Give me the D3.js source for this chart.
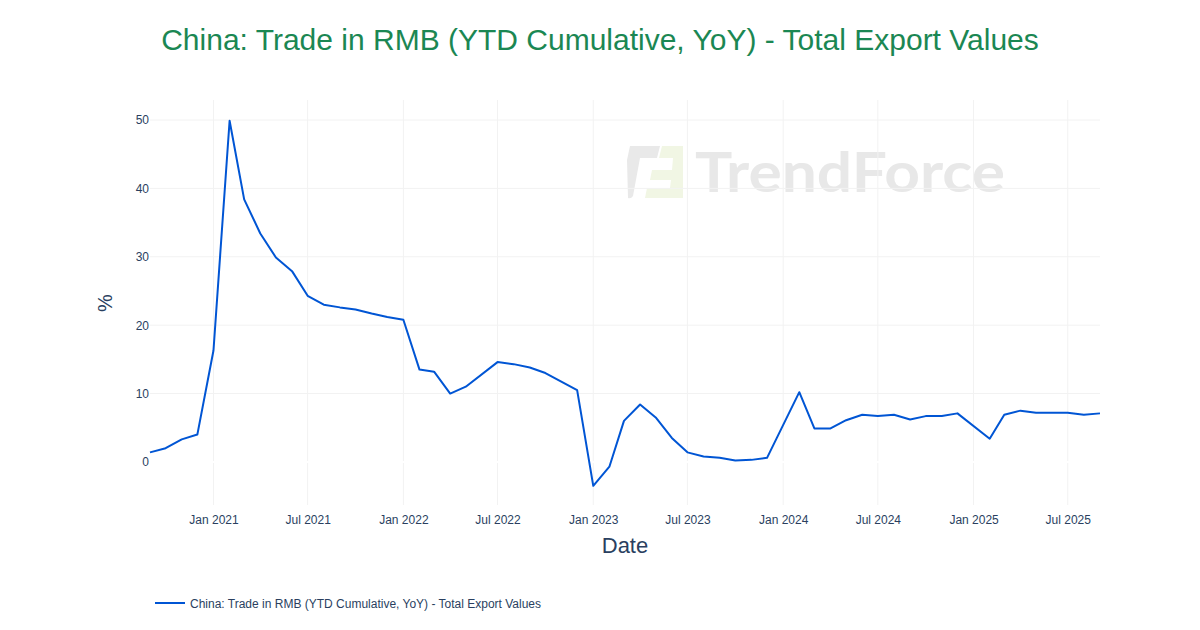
<!DOCTYPE html>
<html>
<head>
<meta charset="utf-8">
<title>China: Trade in RMB - Total Export Values</title>
<script src="https://cdnjs.cloudflare.com/ajax/libs/d3/7.8.5/d3.min.js"></script>
<style>
  body { margin: 0; background: #fff; }
  text { font-family: "Liberation Sans", Arial, sans-serif; }
</style>
</head>
<body>
<div id="chart"></div>
<script>
// monthly readings (YTD cumulative YoY, %)
var dates = [
  "2020-09", "2020-10", "2020-11", "2020-12",
  "2021-01", "2021-02", "2021-03", "2021-04", "2021-05", "2021-06",
  "2021-07", "2021-08", "2021-09", "2021-10", "2021-11", "2021-12",
  "2022-01", "2022-02", "2022-03", "2022-04", "2022-05",
  "2022-07", "2022-08", "2022-09", "2022-10", "2022-12",
  "2023-01", "2023-02", "2023-03", "2023-04", "2023-05", "2023-06",
  "2023-07", "2023-08", "2023-09", "2023-10", "2023-11", "2023-12",
  "2024-02", "2024-03", "2024-04", "2024-05", "2024-06",
  "2024-07", "2024-08", "2024-09", "2024-10", "2024-11", "2024-12",
  "2025-02", "2025-03", "2025-04", "2025-05", "2025-06",
  "2025-07", "2025-08", "2025-09"
];
var values = [
  1.4, 2.0, 3.3, 4.0,
  16.3, 49.9, 38.4, 33.4, 29.9, 27.9,
  24.3, 23.0, 22.6, 22.3, 21.7, 21.2,
  20.8, 13.5, 13.2, 10.0, 11.0,
  14.6, 14.3, 13.8, 13.0, 10.5,
  -3.5, -0.7, 6.0, 8.4, 6.5, 3.5,
  1.4, 0.8, 0.6, 0.2, 0.3, 0.6,
  10.2, 4.9, 4.9, 6.1, 6.9,
  6.7, 6.9, 6.2, 6.7, 6.7, 7.1,
  3.4, 6.9, 7.5, 7.2, 7.2,
  7.2, 6.9, 7.1
];
var yTicks = [0, 10, 20, 30, 40, 50];
var xTickDates = ["2021-01", "2021-07", "2022-01", "2022-07", "2023-01",
                  "2023-07", "2024-01", "2024-07", "2025-01", "2025-07"];
var seriesName = "China: Trade in RMB (YTD Cumulative, YoY) - Total Export Values";
var chartTitle = "China: Trade in RMB (YTD Cumulative, YoY) - Total Export Values";

var parse = d3.timeParse("%Y-%m");
var data = dates.map(function(d, i) { return {date: parse(d), value: values[i]}; });

var width = 1200, height = 630;
var plotL = 150, plotR = 1100, plotT = 100, plotB = 505;
var ink = "#2a3f5f";

var svg = d3.select("#chart").append("svg")
    .attr("width", width)
    .attr("height", height);

var x = d3.scaleTime()
    .domain(d3.extent(data, function(d) { return d.date; }))
    .range([plotL, plotR]);
var y = d3.scaleLinear()
    .domain([-6.3, 52.93])
    .range([plotB, plotT]);

// watermark
var wm = svg.append("g");
wm.append("path")
    .attr("d", "M630,146 L660,146 L657,158 L640,158 L633,196 Q631,199 628,198 L627,160 Z")
    .attr("fill", "#e9e9e9");
wm.append("path")
    .attr("d", "M662,146 L683,146 L683,198 L645,198 L647,188 L670,188 L671,180 L650,180 L652,170 L672,170 L673,158 L659,158 Z")
    .attr("fill", "#f1f6e4");
wm.append("text")
    .attr("x", 695).attr("y", 192)
    .attr("textLength", 310)
    .attr("lengthAdjust", "spacingAndGlyphs")
    .style("font-family", "Lato, 'Open Sans', sans-serif")
    .style("font-weight", "bold")
    .style("font-size", "56px")
    .attr("fill", "#e8e8e8")
    .text("TrendForce");

// grid
svg.append("g").selectAll("line")
    .data(xTickDates)
  .enter().append("line")
    .attr("x1", function(d) { return x(parse(d)); })
    .attr("x2", function(d) { return x(parse(d)); })
    .attr("y1", plotT).attr("y2", plotB)
    .attr("stroke", "#f2f2f2").attr("stroke-width", 1);

svg.append("g").selectAll("line")
    .data(yTicks.filter(function(t) { return t !== 0; }))
  .enter().append("line")
    .attr("x1", plotL).attr("x2", plotR)
    .attr("y1", function(d) { return y(d); })
    .attr("y2", function(d) { return y(d); })
    .attr("stroke", "#f2f2f2").attr("stroke-width", 1);

// zero line (white, cuts the grid)
svg.append("line")
    .attr("x1", plotL).attr("x2", plotR)
    .attr("y1", y(0)).attr("y2", y(0))
    .attr("stroke", "#ffffff").attr("stroke-width", 2);

// axes
var xAxis = d3.axisBottom(x)
    .tickValues(xTickDates.map(parse))
    .tickFormat(d3.timeFormat("%b %Y"))
    .tickSize(0).tickPadding(10);
var gx = svg.append("g")
    .attr("transform", "translate(0," + plotB + ")")
    .call(xAxis);
gx.select(".domain").remove();
gx.selectAll("text").style("font-size", "12px").attr("fill", ink);

var yAxis = d3.axisLeft(y)
    .tickValues(yTicks)
    .tickSize(0).tickPadding(0);
var gy = svg.append("g")
    .attr("transform", "translate(" + (plotL - 1) + ",0)")
    .call(yAxis);
gy.select(".domain").remove();
gy.selectAll("text").style("font-size", "12px").attr("fill", ink);

// line
var line = d3.line()
    .x(function(d) { return x(d.date); })
    .y(function(d) { return y(d.value); });

svg.append("path")
    .datum(data)
    .attr("d", line)
    .attr("fill", "none")
    .attr("stroke", "#0055d4")
    .attr("stroke-width", 2)
    .attr("stroke-linejoin", "round");

// titles
svg.append("text")
    .attr("x", 600).attr("y", 50)
    .attr("text-anchor", "middle")
    .style("font-size", "30px")
    .attr("fill", "#1b8753")
    .text(chartTitle);

svg.append("text")
    .attr("x", 625).attr("y", 553)
    .attr("text-anchor", "middle")
    .style("font-size", "22px")
    .attr("fill", ink)
    .text("Date");

svg.append("text")
    .attr("transform", "translate(112,303) rotate(-90)")
    .attr("text-anchor", "middle")
    .style("font-size", "20px")
    .attr("fill", ink)
    .text("%");

// legend
var lg = svg.append("g").attr("transform", "translate(155,603)");
lg.append("line")
    .attr("x1", 0).attr("x2", 30)
    .attr("y1", 0).attr("y2", 0)
    .attr("stroke", "#0055d4").attr("stroke-width", 2);
lg.append("text")
    .attr("x", 35).attr("y", 5)
    .style("font-size", "12px")
    .attr("fill", ink)
    .text(seriesName);
</script>
</body>
</html>
